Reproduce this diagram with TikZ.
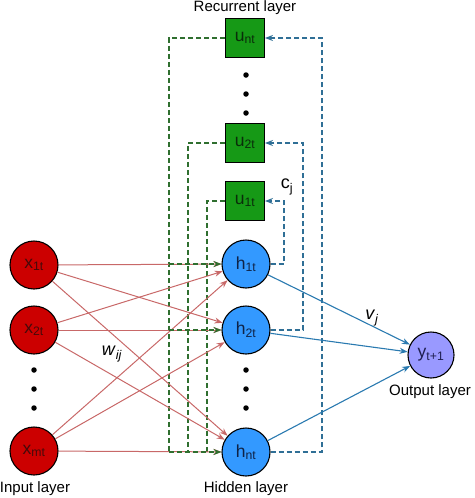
\documentclass[tikz,border=0pt]{standalone}
\usepackage{fontspec}
\setmainfont{Liberation Sans}
\usetikzlibrary{arrows.meta}
\definecolor{xred}{HTML}{CC0000}
\definecolor{hblue}{HTML}{3399FF}
\definecolor{ypurple}{HTML}{9999FF}
\definecolor{ugreen}{HTML}{169916}
\definecolor{redline}{HTML}{C86868}
\definecolor{blueline}{HTML}{2A7AB0}
\definecolor{greendash}{HTML}{2F6F2F}
\definecolor{bluedash}{HTML}{2F6F96}
\begin{document}
\begin{tikzpicture}[x=1pt,y=-1pt,
  font=\fontsize{15pt}{17pt}\selectfont,
  neuron/.style={circle,draw=black,line width=1.1pt,minimum size=48pt,inner sep=0pt,font=\fontsize{17.5pt}{19pt}\selectfont},
  xnode/.style={neuron,fill=xred,text={rgb,255:red,70;green,10;blue,10}},
  hnode/.style={neuron,fill=hblue,text={rgb,255:red,15;green,35;blue,70}},
  ynode/.style={neuron,fill=ypurple,minimum size=46pt,text={rgb,255:red,30;green,30;blue,80}},
  unode/.style={rectangle,draw=black,line width=0.9pt,fill=ugreen,minimum size=39pt,inner sep=0pt,text={rgb,255:red,10;green,45;blue,10},font=\fontsize{17.5pt}{19pt}\selectfont},
  dotnode/.style={circle,fill=black,minimum size=5.5pt,inner sep=0pt},
  redarrow/.style={draw=redline,line width=1pt,-{Stealth[length=8pt,width=6pt]}},
  bluearrow/.style={draw=blueline,line width=1.1pt,-{Stealth[length=8pt,width=6pt]}},
  greendashed/.style={draw=greendash,line width=1.3pt,dash pattern=on 5pt off 3pt},
  greenarrow/.style={greendashed,-{Stealth[length=8pt,width=6pt]}},
  bluedashed/.style={draw=bluedash,line width=1.3pt,dash pattern=on 5pt off 3pt},
  bluedasharrow/.style={bluedashed,-{Stealth[length=8pt,width=6pt]}},
  lbl/.style={inner sep=0pt},
  wlbl/.style={inner sep=0pt,font=\fontsize{18pt}{20pt}\selectfont}
]
\useasboundingbox (0,0) rectangle (474,498);

% input layer
\node[xnode] (x1) at (34,265) {x\textsubscript{1t}};
\node[xnode] (x2) at (34,330) {x\textsubscript{2t}};
\node[xnode] (xm) at (34,451) {x\textsubscript{mt}};
\node[dotnode] (xd1) at (34,370) {};
\node[dotnode] (xd2) at (34,389) {};
\node[dotnode] (xd3) at (34,408) {};

% hidden layer
\node[hnode] (h1) at (246,264) {h\textsubscript{1t}};
\node[hnode] (h2) at (246,330) {h\textsubscript{2t}};
\node[hnode] (hn) at (246,452) {h\textsubscript{nt}};
\node[dotnode] (hd1) at (246,370) {};
\node[dotnode] (hd2) at (246,389) {};
\node[dotnode] (hd3) at (246,408) {};

% output
\node[ynode] (y) at (431,355) {y\textsubscript{t+1}};

% recurrent layer
\node[unode] (u1) at (245,201) {u\textsubscript{1t}};
\node[unode] (u2) at (245,143) {u\textsubscript{2t}};
\node[unode] (un) at (245,38) {u\textsubscript{nt}};
\node[dotnode] (ud1) at (246,75) {};
\node[dotnode] (ud2) at (246,94) {};
\node[dotnode] (ud3) at (246,113) {};

% labels
\node[lbl] (lrec) at (245,8) {Recurrent layer};
\node[lbl] (lin) at (35,489) {Input layer};
\node[lbl] (lhid) at (246,489) {Hidden layer};
\node[lbl] (lout) at (430,392) {Output layer};

% green dashed recurrent -> hidden
\coordinate (g1) at (169,38);
\coordinate (g1b) at (169,452);
\coordinate (g2) at (188,143);
\coordinate (g2b) at (188,452);
\coordinate (g3) at (207,201);
\coordinate (g3b) at (207,452);
\draw[greendashed] (un.west) -- (g1) -- (g1b);
\draw[greendashed] (u2.west) -- (g2) -- (g2b);
\draw[greendashed] (u1.west) -- (g3) -- (g3b);
\coordinate (gh1) at (169,264);
\coordinate (gh2) at (169,330);
\coordinate (ghn) at (169,452);

% red input -> hidden
\foreach \a in {x1,x2,xm}{
  \foreach \b in {h1,h2,hn}{
    \draw[redarrow] (\a) -- (\b);
  }
}

\draw[greenarrow] (gh1) -- (h1.west);
\draw[greenarrow] (gh2) -- (h2.west);
\draw[greenarrow] (ghn) -- (hn.west);

% blue dashed hidden -> recurrent
\coordinate (b1) at (284,264);
\coordinate (b1t) at (284,201);
\coordinate (b2) at (303,330);
\coordinate (b2t) at (303,143);
\coordinate (b3) at (322,452);
\coordinate (b3t) at (322,38);
\draw[bluedasharrow] (h1.east) -- (b1) -- (b1t) -- (u1.east);
\draw[bluedasharrow] (h2.east) -- (b2) -- (b2t) -- (u2.east);
\draw[bluedasharrow] (hn.east) -- (b3) -- (b3t) -- (un.east);

% hidden -> output
\draw[bluearrow] (h1) -- (y);
\draw[bluearrow] (h2) -- (y);
\draw[bluearrow] (hn) -- (y);

% weight labels
\node[wlbl] (wij) at (112,354) {\textit{w}\textsubscript{\textit{ij}}};
\node[wlbl] (vj) at (372,318) {\textit{v}\textsubscript{\textit{j}}};
\node[wlbl] (cj) at (287,187) {c\textsubscript{j}};
\end{tikzpicture}
\end{document}
